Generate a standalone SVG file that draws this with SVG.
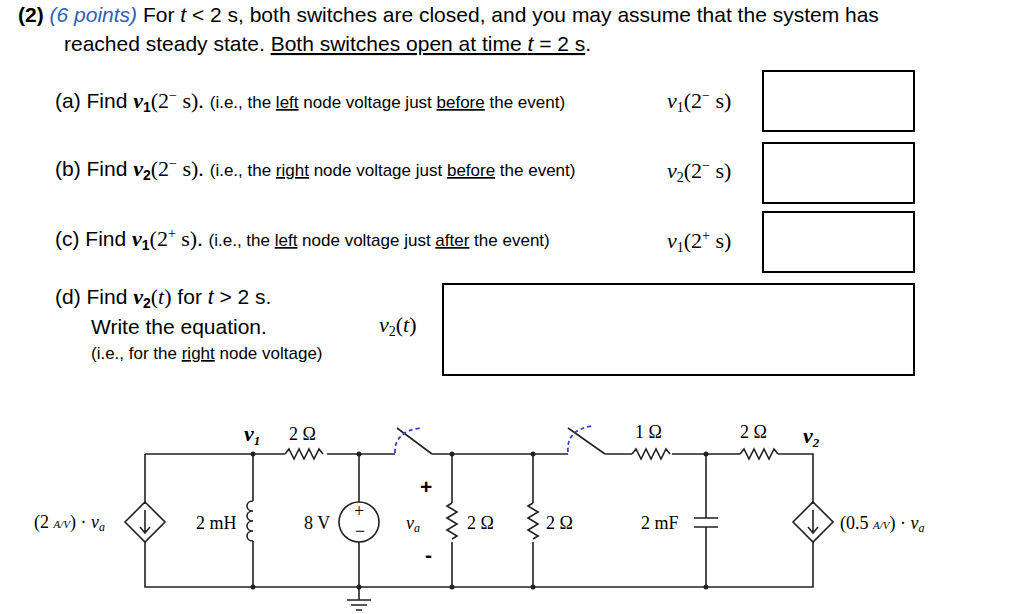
<svg xmlns="http://www.w3.org/2000/svg" width="1024" height="614" viewBox="0 0 1024 614">
<style>
.t{font-family:"Liberation Sans",Arial,sans-serif;font-size:21px;fill:#000}
.s{font-family:"Liberation Sans",Arial,sans-serif;font-size:17px;fill:#000}
.m{font-family:"Liberation Serif","Times New Roman",serif;font-size:22px;fill:#000}
.c{font-family:"Liberation Serif","Times New Roman",serif;font-size:18px;fill:#000}
.w{fill:none;stroke:#222;stroke-width:1.6}
.box{fill:#fff;stroke:#000;stroke-width:2}
.d{fill:#222}
</style>
<rect width="1024" height="614" fill="#fff"/>
<g id="text">
<text class="t" x="18" y="22"><tspan font-weight="bold">(2)</tspan>  <tspan fill="#2e5fb4" font-style="italic">(6 points)</tspan> For <tspan font-style="italic">t</tspan> &lt; 2 s, both switches are closed, and you may assume that the system has</text>
<text class="t" x="64" y="51">reached steady state. <tspan text-decoration="underline">Both switches open at time <tspan font-style="italic">t</tspan> = 2 s</tspan>.</text>
<text class="t" x="55" y="108">(a) Find <tspan font-family="Liberation Serif" font-style="italic" font-weight="bold" font-size="22">v</tspan><tspan font-size="14" font-weight="bold" dy="4">1</tspan><tspan font-family="Liberation Serif" font-size="22" dy="-4">(2<tspan font-size="14" dy="-8">−</tspan><tspan dy="8"> s).</tspan></tspan>   <tspan font-size="17">(i.e., the <tspan text-decoration="underline">left</tspan> node voltage just <tspan text-decoration="underline">before</tspan> the event)</tspan></text>
<text class="t" x="55" y="176">(b) Find <tspan font-family="Liberation Serif" font-style="italic" font-weight="bold" font-size="22">v</tspan><tspan font-size="14" font-weight="bold" dy="4">2</tspan><tspan font-family="Liberation Serif" font-size="22" dy="-4">(2<tspan font-size="14" dy="-8">−</tspan><tspan dy="8"> s).</tspan></tspan>   <tspan font-size="17">(i.e., the <tspan text-decoration="underline">right</tspan> node voltage just <tspan text-decoration="underline">before</tspan> the event)</tspan></text>
<text class="t" x="55" y="246">(c)  Find <tspan font-family="Liberation Serif" font-style="italic" font-weight="bold" font-size="22">v</tspan><tspan font-size="14" font-weight="bold" dy="4">1</tspan><tspan font-family="Liberation Serif" font-size="22" dy="-4">(2<tspan font-size="14" dy="-8">+</tspan><tspan dy="8"> s).</tspan></tspan>   <tspan font-size="17">(i.e., the <tspan text-decoration="underline">left</tspan> node voltage just <tspan text-decoration="underline">after</tspan> the event)</tspan></text>
<text class="t" x="55" y="304">(d) Find <tspan font-family="Liberation Serif" font-style="italic" font-weight="bold" font-size="22">v</tspan><tspan font-size="14" font-weight="bold" dy="4">2</tspan><tspan font-family="Liberation Serif" font-size="22" dy="-4">(<tspan font-style="italic">t</tspan>)</tspan>    for <tspan font-style="italic">t</tspan> &gt; 2 s.</text>
<text class="t" x="91" y="334">Write the equation.</text>
<text class="s" x="91" y="359">(i.e., for the <tspan text-decoration="underline">right</tspan> node voltage)</text>
<text class="m" x="667" y="108"><tspan font-style="italic">v</tspan><tspan font-size="14" dy="4">1</tspan><tspan dy="-4">(2<tspan font-size="14" dy="-8">−</tspan><tspan dy="8"> s)</tspan></tspan></text>
<text class="m" x="667" y="178"><tspan font-style="italic">v</tspan><tspan font-size="14" dy="4">2</tspan><tspan dy="-4">(2<tspan font-size="14" dy="-8">−</tspan><tspan dy="8"> s)</tspan></tspan></text>
<text class="m" x="667" y="248"><tspan font-style="italic">v</tspan><tspan font-size="14" dy="4">1</tspan><tspan dy="-4">(2<tspan font-size="14" dy="-8">+</tspan><tspan dy="8"> s)</tspan></tspan></text>
<text class="m" x="379" y="332"><tspan font-style="italic">v</tspan><tspan font-size="14" dy="4">2</tspan><tspan dy="-4">(<tspan font-style="italic">t</tspan>)</tspan></text>
</g>
<g id="answer-boxes">
<rect class="box" x="763" y="71" width="151" height="60"/>
<rect class="box" x="763" y="143" width="151" height="60"/>
<rect class="box" x="763" y="212" width="151" height="60"/>
<rect class="box" x="443" y="284" width="471" height="91"/>
</g>
<g id="connectors">
<path class="w" d="M145,454 H285 M327,454 H395 M432,454 H568 M605,454 H632 M672,454 H740 M778,454 H813 V502 M813,542 V587 H145 V542 M145,502 V454"/>
<path class="w" d="M253,454 V501 M253,541 V587 M359,454 V502 M359,542 V600 M452,454 V503 M452,542 V587 M533,454 V503 M533,542 V587 M706,454 V518 M706,527 V587"/>
<circle class="d" cx="253" cy="454" r="2.5"/><circle class="d" cx="359" cy="454" r="2.5"/><circle class="d" cx="452" cy="454" r="2.5"/><circle class="d" cx="533" cy="454" r="2.5"/><circle class="d" cx="706" cy="454" r="2.5"/>
<circle class="d" cx="253" cy="587" r="2.5"/><circle class="d" cx="359" cy="587" r="2.5"/><circle class="d" cx="452" cy="587" r="2.5"/><circle class="d" cx="533" cy="587" r="2.5"/><circle class="d" cx="706" cy="587" r="2.5"/>
</g>
<g id="src-left">
<path class="w" d="M145,502 L165,522 L145,542 L125,522 Z M145,510 V533 M140,527 L145,533 L150,527"/>
<text class="c" x="34" y="528">(2 <tspan font-size="11" font-style="italic">A/V</tspan>) · <tspan font-style="italic">v</tspan><tspan font-size="12" font-style="italic" dy="3">a</tspan></text>
</g>
<g id="v1-label"><text class="m" x="244" y="441" font-style="italic" font-weight="bold" font-size="20">v<tspan font-size="13" dy="4">1</tspan></text></g>
<g id="r1"><path class="w" d="M285,454 l4,-5 l5,10 l5,-10 l5,10 l5,-10 l5,10 l5,-10 l4,5"/><text class="c" x="289" y="440">2 Ω</text></g>
<g id="inductor"><path class="w" d="M253,501 c-8,0 -8,10 0,10 c-8,0 -8,10 0,10 c-8,0 -8,10 0,10 c-8,0 -8,10 0,10"/><text class="c" x="196" y="529">2 mH</text></g>
<g id="vsrc"><circle class="w" cx="359" cy="522" r="20"/><text class="c" x="354" y="517" font-size="14">+</text><text class="c" x="355" y="537" font-size="14">−</text><text class="c" x="304" y="529">8 V</text>
<path class="w" d="M347,600 H371 M351,605 H367 M356,610 H362"/></g>
<g id="sw1"><path class="w" d="M397,428 L432,454"/><path d="M395,453 Q394,432 420,428" fill="none" stroke="#3344cc" stroke-width="1.8" stroke-dasharray="4,3"/></g>
<g id="va"><text class="t" x="420" y="494" font-weight="bold">+</text><text class="c" x="406" y="529" font-style="italic">v<tspan font-size="12" dy="3">a</tspan></text><text class="t" x="425" y="562" font-weight="bold">-</text></g>
<g id="r2"><path class="w" d="M452,503 l-5,3 l10,6 l-10,6 l10,6 l-10,6 l10,6 l-5,3"/><text class="c" x="467" y="529">2 Ω</text></g>
<g id="r3"><path class="w" d="M533,503 l-5,3 l10,6 l-10,6 l10,6 l-10,6 l10,6 l-5,3"/><text class="c" x="546" y="529">2 Ω</text></g>
<g id="sw2"><path class="w" d="M568,428 L605,454"/><path d="M568,452 Q566,430 592,426" fill="none" stroke="#3344cc" stroke-width="1.8" stroke-dasharray="4,3"/></g>
<g id="r4"><path class="w" d="M632,454 l4,-5 l5,10 l5,-10 l5,10 l5,-10 l5,10 l5,-10 l4,5"/><text class="c" x="635" y="438">1 Ω</text></g>
<g id="cap"><path class="w" d="M694,518 H718 M694,527 H718"/><text class="c" x="641" y="529">2 mF</text></g>
<g id="r5"><path class="w" d="M740,454 l4,-5 l5,10 l5,-10 l5,10 l5,-10 l5,10 l5,-10 l4,5"/><text class="c" x="740" y="438">2 Ω</text></g>
<g id="v2-label"><text class="m" x="803" y="443" font-style="italic" font-weight="bold" font-size="20">v<tspan font-size="13" dy="4">2</tspan></text></g>
<g id="src-right">
<path class="w" d="M813,502 L833,522 L813,542 L793,522 Z M813,510 V533 M808,527 L813,533 L818,527"/>
<text class="c" x="840" y="529">(0.5 <tspan font-size="11" font-style="italic">A/V</tspan>) · <tspan font-style="italic">v</tspan><tspan font-size="12" font-style="italic" dy="3">a</tspan></text>
</g>
</svg>
